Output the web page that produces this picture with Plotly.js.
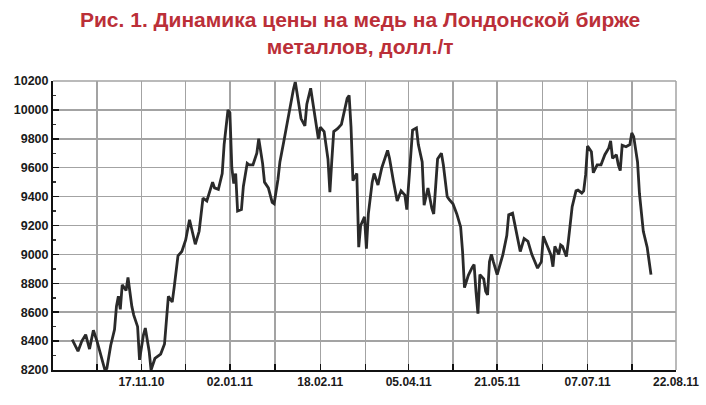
<!DOCTYPE html>
<html>
<head>
<meta charset="utf-8">
<script src="https://cdn.plot.ly/plotly-3.0.1.min.js"></script>
<style>
html,body{margin:0;padding:0;background:#fff;}
#chart{width:706px;height:405px;}
</style>
</head>
<body>
<div id="chart"></div>
<script>
// Copper price on LME, USD/t
const dates = [
'2010-10-12','2010-10-15','2010-10-17','2010-10-19','2010-10-21','2010-10-23','2010-10-25','2010-10-27','2010-10-29','2010-10-30',
'2010-11-01','2010-11-03','2010-11-04','2010-11-05','2010-11-06','2010-11-07','2010-11-09','2010-11-10','2010-11-12','2010-11-13',
'2010-11-15','2010-11-16','2010-11-18','2010-11-19','2010-11-21','2010-11-22','2010-11-24','2010-11-27','2010-11-29','2010-12-01',
'2010-12-03','2010-12-04','2010-12-06','2010-12-08','2010-12-10','2010-12-12','2010-12-14','2010-12-15','2010-12-17','2010-12-19',
'2010-12-21','2010-12-24','2010-12-25','2010-12-27','2010-12-29','2010-12-30','2011-01-01','2011-01-02','2011-01-03','2011-01-04',
'2011-01-05','2011-01-06','2011-01-08','2011-01-09','2011-01-11','2011-01-12','2011-01-14','2011-01-16','2011-01-17','2011-01-19',
'2011-01-20','2011-01-22','2011-01-24','2011-01-25','2011-01-27','2011-01-28','2011-01-30','2011-02-01','2011-02-02','2011-02-04',
'2011-02-05','2011-02-06','2011-02-08','2011-02-10','2011-02-11','2011-02-13','2011-02-15','2011-02-17','2011-02-18','2011-02-20',
'2011-02-22','2011-02-23','2011-02-24','2011-02-25','2011-02-27','2011-03-01','2011-03-04','2011-03-05','2011-03-06','2011-03-07',
'2011-03-09','2011-03-10','2011-03-11','2011-03-13','2011-03-14','2011-03-15','2011-03-17','2011-03-18','2011-03-20','2011-03-22',
'2011-03-25','2011-03-26','2011-03-28','2011-03-30','2011-04-01','2011-04-03','2011-04-04','2011-04-05','2011-04-06','2011-04-07',
'2011-04-09','2011-04-10','2011-04-12','2011-04-13','2011-04-15','2011-04-16','2011-04-17','2011-04-18','2011-04-19','2011-04-20',
'2011-04-22','2011-04-23','2011-04-25','2011-04-26','2011-04-28','2011-04-30','2011-05-02','2011-05-03','2011-05-04','2011-05-06',
'2011-05-08','2011-05-09','2011-05-10','2011-05-11','2011-05-12','2011-05-14','2011-05-15','2011-05-16','2011-05-17','2011-05-18',
'2011-05-19','2011-05-21','2011-05-24','2011-05-25','2011-05-26','2011-05-27','2011-05-29','2011-05-30','2011-06-01','2011-06-02',
'2011-06-04','2011-06-06','2011-06-08','2011-06-09','2011-06-11','2011-06-13','2011-06-14','2011-06-16','2011-06-18','2011-06-19',
'2011-06-20','2011-06-22','2011-06-23','2011-06-24','2011-06-26','2011-06-27','2011-06-29','2011-07-01','2011-07-02','2011-07-04',
'2011-07-05','2011-07-06','2011-07-07','2011-07-09','2011-07-10','2011-07-12','2011-07-14','2011-07-16','2011-07-18','2011-07-19',
'2011-07-20','2011-07-22','2011-07-23','2011-07-24','2011-07-25','2011-07-27','2011-07-29','2011-07-30','2011-07-31','2011-08-02',
'2011-08-03','2011-08-05','2011-08-07','2011-08-09'
];
const prices = [
8410,8330,8400,8445,8345,8475,8395,8300,8200,8210,
8370,8480,8640,8710,8620,8790,8750,8840,8640,8580,
8500,8270,8440,8490,8330,8200,8280,8310,8380,8710,
8670,8770,8990,9020,9100,9240,9140,9070,9160,9390,
9370,9500,9460,9450,9560,9760,10000,9980,9600,9490,
9560,9300,9310,9470,9630,9620,9620,9700,9800,9630,
9500,9460,9360,9350,9520,9640,9780,9930,10000,10140,
10195,10110,9940,9890,10040,10150,9990,9800,9880,9850,
9660,9430,9650,9850,9870,9900,10080,10100,9880,9510,
9560,9050,9200,9260,9040,9280,9500,9560,9480,9600,
9720,9665,9510,9370,9440,9410,9310,9500,9710,9860,
9875,9760,9640,9340,9460,9390,9320,9280,9470,9660,
9700,9620,9400,9380,9350,9280,9190,9020,8770,8855,
8910,8930,8740,8590,8860,8830,8745,8720,8950,9000,
8950,8860,9000,9070,9130,9275,9285,9220,9100,9020,
9110,9090,9000,8970,8905,8950,9125,9060,8995,8915,
9055,9000,9065,9055,8985,9090,9330,9440,9445,9425,
9440,9550,9750,9710,9565,9620,9620,9690,9735,9785,
9665,9690,9620,9580,9755,9745,9760,9840,9815,9640,
9420,9160,9050,8860
];
// x-axis grid dates and their labels (every other grid line labelled)
const gridDates = [
'2010-10-25 00:00','2010-11-17 00:00','2010-12-10 00:00','2011-01-02 00:00','2011-01-25 12:00',
'2011-02-18 00:00','2011-03-13 12:00','2011-04-05 00:00','2011-04-28 00:00','2011-05-21 00:00',
'2011-06-13 12:00','2011-07-07 00:00','2011-07-30 00:00','2011-08-22 00:00'
];
const gridLabels = ['', '17.11.10', '', '02.01.11', '', '18.02.11', '', '05.04.11', '', '21.05.11', '', '07.07.11', '', '22.08.11'];
const xRange = ['2010-10-02', '2011-08-22'];
const yTicks = [8200,8400,8600,8800,9000,9200,9400,9600,9800,10000,10200];
const titleText = 'Рис. 1. Динамика цены на медь на Лондонской бирже<br>металлов, долл./т';

const trace = {
  x: dates, y: prices, type: 'scatter', mode: 'lines',
  line: {color: '#2a2a2a', width: 2.8},
  hoverinfo: 'skip'
};

const layout = {
  width: 706, height: 405,
  margin: {l: 53, r: 30, t: 81, b: 35},
  paper_bgcolor: '#ffffff', plot_bgcolor: '#ffffff',
  showlegend: false,
  font: {family: 'Liberation Sans, Arial, sans-serif', color: '#1a1a1a'},
  title: {
    text: titleText,
    font: {family: 'Liberation Sans, Arial, sans-serif', size: 21, color: '#bb2f38', weight: 'bold'},
    x: 0.493, xanchor: 'center', xref: 'paper',
    y: 0.933, yanchor: 'middle', yref: 'container'
  },
  xaxis: {
    type: 'date', range: xRange,
    tickmode: 'array', tickvals: gridDates, ticktext: gridLabels,
    showgrid: true, gridcolor: '#a3a3a3', gridwidth: 1.5,
    showline: true, linecolor: '#111', linewidth: 2,
    ticks: 'inside', ticklen: 6, tickwidth: 1.5, tickcolor: '#111',
    tickfont: {size: 12, color: '#1a1a1a', weight: 'bold'},
    zeroline: false, fixedrange: true
  },
  yaxis: {
    range: [8200, 10200],
    tickmode: 'array', tickvals: yTicks, ticktext: yTicks.map(String),
    showgrid: true, gridcolor: '#a3a3a3', gridwidth: 1.5,
    showline: true, linecolor: '#111', linewidth: 2,
    ticks: 'inside', ticklen: 6, tickwidth: 1.5, tickcolor: '#111',
    minor: {dtick: 100, ticks: 'inside', ticklen: 3, tickcolor: '#333', showgrid: false},
    tickfont: {size: 12.5, color: '#1a1a1a', weight: 'bold'},
    zeroline: false, fixedrange: true
  },
  shapes: [
    {type: 'line', xref: 'paper', yref: 'paper', x0: 0, x1: 1, y0: 1, y1: 1, line: {color: '#a3a3a3', width: 1.5}},
    {type: 'line', xref: 'paper', yref: 'paper', x0: 1, x1: 1, y0: 0, y1: 1, line: {color: '#a3a3a3', width: 1.5}}
  ]
};

Plotly.newPlot('chart', [trace], layout, {displayModeBar: false, staticPlot: true});
</script>
</body>
</html>
